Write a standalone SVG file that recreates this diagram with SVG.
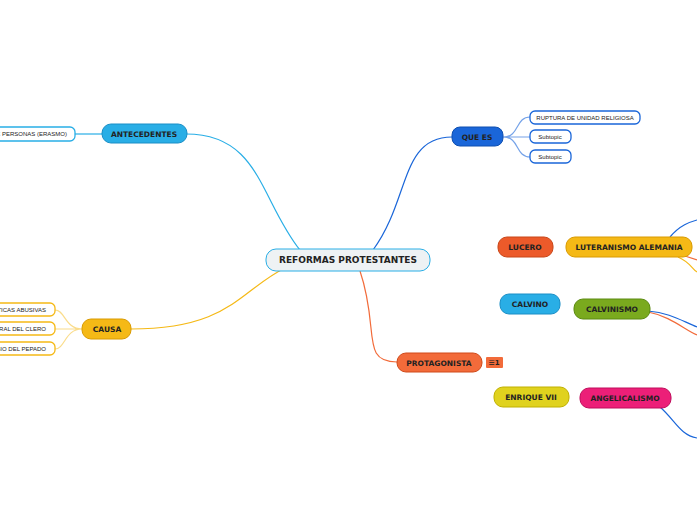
<svg xmlns="http://www.w3.org/2000/svg" width="697" height="520" viewBox="0 0 697 520">
<style>
text{font-family:"DejaVu Sans","Liberation Sans",sans-serif;font-weight:bold;text-anchor:middle;dominant-baseline:central;fill:#222}
.s{font-size:6px;font-weight:normal;font-family:"Liberation Sans",sans-serif}
.e{text-anchor:end}
.n{font-size:7.5px}
.c{fill:none;stroke-width:1.2}
.sub{fill:#fff;stroke-width:1.3}
</style>
<rect width="697" height="520" fill="#fff"/>
<g id="connectors">
<path class="c" stroke="#29aee6" d="M300,250 C260,200 260,134 186,134"/>
<path class="c" stroke="#f5b916" d="M285,268 C240,290 230,329 131,329"/>
<path class="c" stroke="#1a66d9" d="M373,250 C410,200 400,137 452,137"/>
<path class="c" stroke="#f26b3a" d="M360,271 C380,330 360,362 397,362"/>
<path class="c" stroke="#f5b916" stroke-opacity=".5" d="M82,329 C65,329 65,310 55,310 M82,329 L55,329 M82,329 C65,329 65,349 55,349"/>
<path class="c" stroke="#29aee6" d="M102,134 L75,134"/>
<path class="c" stroke="#1a66d9" stroke-opacity=".6" d="M503,137 C520,137 515,117 530,117 M503,137 L530,137 M503,137 C520,137 515,157 530,157"/>
<path class="c" stroke="#1a66d9" d="M670,237 C680,225 690,222 697,220"/>
<path class="c" stroke="#f26b3a" d="M685,256 L697,260"/>
<path class="c" stroke="#f5b916" d="M678,257 C690,262 693,270 697,272"/>
<path class="c" stroke="#1a66d9" d="M648,311 C670,313 680,320 697,327"/>
<path class="c" stroke="#f26b3a" d="M648,312 C670,316 685,330 697,335"/>
<path class="c" stroke="#1a66d9" d="M660,407 C675,420 680,435 697,438"/>
</g>
<g id="center"><rect x="266" y="249" width="164" height="22" rx="10" fill="#eef2f4" stroke="#29aee6"/><text x="348" y="260" font-size="9">REFORMAS PROTESTANTES</text></g>
<g id="antecedentes"><rect x="102" y="124" width="85" height="19" rx="9" fill="#29aee6" stroke="#1a8ec6"/><text class="n" x="144" y="134">ANTECEDENTES</text></g>
<g id="ant1"><rect class="sub" x="-40" y="127" width="115" height="14" rx="5" stroke="#29aee6"/><text class="s e" x="67" y="134">E PERSONAS (ERASMO)</text></g>
<g id="causa"><rect x="82" y="319" width="49" height="20" rx="9" fill="#f5b916" stroke="#d99a00"/><text class="n" x="107" y="329">CAUSA</text></g>
<g id="c1"><rect class="sub" x="-40" y="303" width="95" height="13" rx="5" stroke="#f5b916"/><text class="s e" x="46" y="310">TICAS ABUSIVAS</text></g>
<g id="c2"><rect class="sub" x="-40" y="322" width="95" height="13" rx="5" stroke="#f5b916"/><text class="s e" x="46" y="329">ORAL DEL CLERO</text></g>
<g id="c3"><rect class="sub" x="-40" y="342" width="95" height="13" rx="5" stroke="#f5b916"/><text class="s e" x="46" y="349">GIO DEL PEPADO</text></g>
<g id="quees"><rect x="452" y="127" width="51" height="19" rx="8" fill="#1a66d9" stroke="#0e4fb0"/><text class="n" x="477" y="137">QUE ES</text></g>
<g id="q1"><rect class="sub" x="530" y="111" width="110" height="13" rx="5" stroke="#1a66d9"/><text class="s" x="585" y="117.5">RUPTURA DE UNIDAD RELIGIOSA</text></g>
<g id="q2"><rect class="sub" x="530" y="130" width="41" height="13" rx="5" stroke="#1a66d9"/><text class="s" x="550" y="137">Subtopic</text></g>
<g id="q3"><rect class="sub" x="530" y="150" width="41" height="13" rx="5" stroke="#1a66d9"/><text class="s" x="550" y="157">Subtopic</text></g>
<g id="protagonista"><rect x="397" y="353" width="85" height="19" rx="9" fill="#f26b3a" stroke="#d04a1a"/><text class="n" x="439" y="363">PROTAGONISTA</text>
<rect x="486" y="357" width="17" height="11" rx="1" fill="#f26b3a"/><text x="494" y="362.5" font-size="7" font-weight="normal">☰1</text></g>
<g id="lucero"><rect x="498" y="237" width="55" height="20" rx="9" fill="#ec5a2a" stroke="#c84618"/><text class="n" x="525" y="247">LUCERO</text></g>
<g id="luteranismo"><rect x="566" y="237" width="126" height="20" rx="9" fill="#f5b916" stroke="#d99a00"/><text class="n" x="629" y="247">LUTERANISMO ALEMANIA</text></g>
<g id="calvino"><rect x="500" y="294" width="60" height="20" rx="9" fill="#29aee6" stroke="#1a8ec6"/><text class="n" x="530" y="304">CALVINO</text></g>
<g id="calvinismo"><rect x="574" y="299" width="76" height="20" rx="9" fill="#7aaa1e" stroke="#5b8a10"/><text class="n" x="612" y="309">CALVINISMO</text></g>
<g id="enrique"><rect x="494" y="387" width="75" height="20" rx="9" fill="#e0d21e" stroke="#c0b000"/><text class="n" x="531" y="397">ENRIQUE VII</text></g>
<g id="angelicalismo"><rect x="580" y="388" width="91" height="20" rx="9" fill="#ec1f78" stroke="#c00d5c"/><text class="n" x="625" y="398">ANGELICALISMO</text></g>
</svg>
